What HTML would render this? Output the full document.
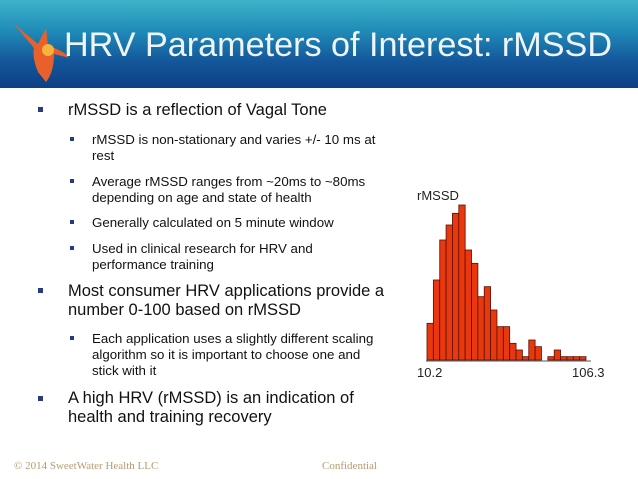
<!DOCTYPE html>
<html><head><meta charset="utf-8"><style>
body{margin:0;width:638px;height:479px;overflow:hidden;background:#fff;font-family:"Liberation Sans",sans-serif;position:relative}
.hdr{position:absolute;left:0;top:0;width:638px;height:88px;background:linear-gradient(#3fb3c9 0%,#1f8cb8 35%,#14569a 70%,#0e3f85 100%)}
.t{position:absolute;white-space:nowrap;color:#111}
.m{font-size:16.5px;line-height:19px;left:68px}
.s{font-size:13.3px;line-height:16px;left:92px}
.b{position:absolute;background:#2a3a80}
.bm{width:5px;height:5px;left:38px}
.bs{width:4px;height:4px;left:70px}
.ft{position:absolute;top:460px;font-size:11px;color:#b89a70;font-family:"Liberation Serif",serif}
</style></head><body>
<div class="hdr">
<svg width="60" height="80" style="position:absolute;left:8px;top:10px"><path d="M6 14 L30 34 L38 18 L40 36 Q55 40 62 48 L46 44 Q46 62 38 72 L30 62 Q24 48 26 38 Z" fill="#e8602a"/><circle cx="40" cy="40" r="6" fill="#f5b43a"/></svg>
<svg width="638" height="88" style="position:absolute;left:0;top:0"><text x="64" y="56" font-size="34" fill="#eef4f8" font-family="Liberation Sans" textLength="548" lengthAdjust="spacingAndGlyphs">HRV Parameters of Interest: rMSSD</text></svg>
</div>
<div class="b bm" style="top:107px"></div>
<div class="t m" style="top:101px">rMSSD is a reflection of Vagal Tone</div>
<div class="b bs" style="top:137px"></div>
<div class="t s" style="top:132px">rMSSD is non-stationary and varies +/- 10 ms at<br>rest</div>
<div class="b bs" style="top:179px"></div>
<div class="t s" style="top:174px">Average rMSSD ranges from ~20ms to ~80ms<br>depending on age and state of health</div>
<div class="b bs" style="top:220px"></div>
<div class="t s" style="top:215px">Generally calculated on 5 minute window</div>
<div class="b bs" style="top:246px"></div>
<div class="t s" style="top:241px">Used in clinical research for HRV and<br>performance training</div>
<div class="b bm" style="top:288px"></div>
<div class="t m" style="top:282px">Most consumer HRV applications provide a<br>number 0-100 based on rMSSD</div>
<div class="b bs" style="top:336px"></div>
<div class="t s" style="top:331px">Each application uses a slightly different scaling<br>algorithm so it is important to choose one and<br>stick with it</div>
<div class="b bm" style="top:396px"></div>
<div class="t m" style="top:389px">A high HRV (rMSSD) is an indication of<br>health and training recovery</div>
<div class="ft" style="left:14px">© 2014 SweetWater Health LLC</div>
<div class="ft" style="left:322px">Confidential</div>
<svg id="hist" width="638" height="479" style="position:absolute;left:0;top:0">
<text x="417" y="200" font-size="13" fill="#222" font-family="Liberation Sans">rMSSD</text>
<line x1="426" y1="361" x2="591" y2="361" stroke="#555"/>
</svg>
<script>
const counts=[11,24,36,40.5,44,46.5,33,29,19,22,15,10,10,5,3,1,6,4,0,1,3,1,1,1,1];
const tickLabels=["10.2","106.3"];
const svg=document.getElementById('hist');
const x0=427,x1=586,base=360,maxH=155,maxV=46.5;
const bw=(x1-x0)/counts.length;
const xs=i=>x0+i*bw, ys=v=>v/maxV*maxH;
counts.forEach((v,i)=>{if(v<=0)return;const r=document.createElementNS('http://www.w3.org/2000/svg','rect');
r.setAttribute('x',xs(i));r.setAttribute('y',base-ys(v));r.setAttribute('width',bw);r.setAttribute('height',ys(v));
r.setAttribute('fill','#e8380f');r.setAttribute('stroke','#5a1000');r.setAttribute('stroke-width','0.8');


svg.appendChild(r);});
[[417,tickLabels[0]],[572,tickLabels[1]]].forEach(([x,t])=>{const e=document.createElementNS('http://www.w3.org/2000/svg','text');
e.setAttribute('x',x);e.setAttribute('y',377);e.setAttribute('font-size','13');e.setAttribute('fill','#222');e.setAttribute('font-family','Liberation Sans');e.textContent=t;


svg.appendChild(e);});
</script>
</body></html>
